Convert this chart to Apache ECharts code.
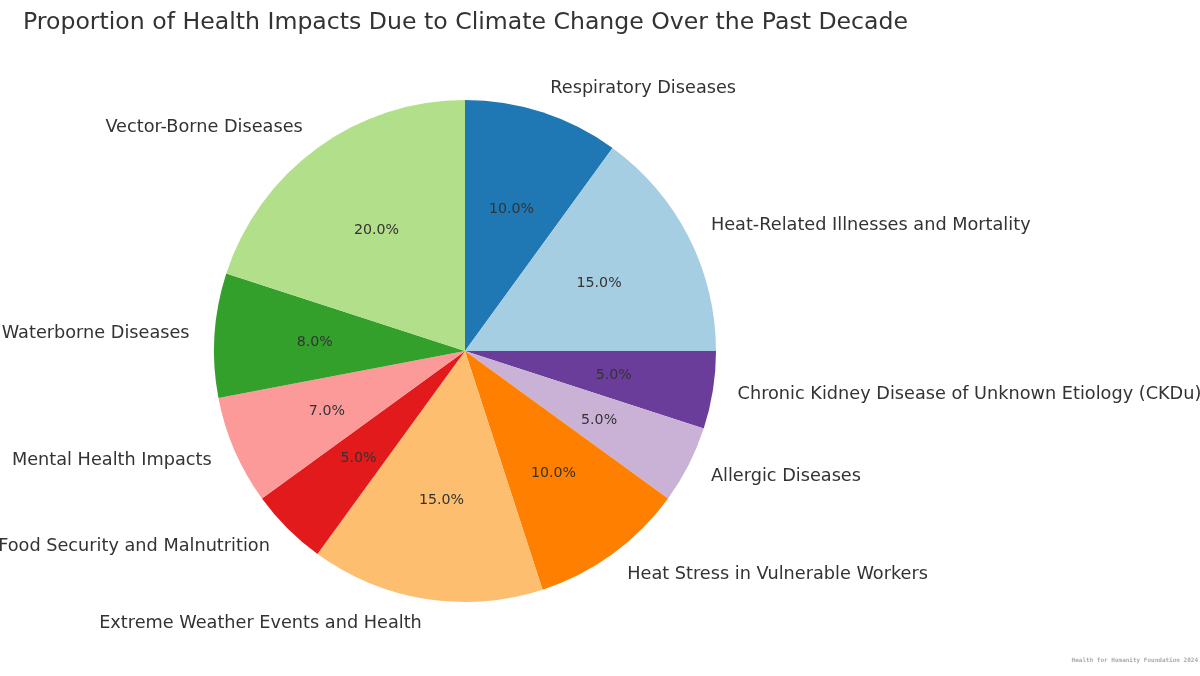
<!DOCTYPE html>
<html>
<head>
<meta charset="utf-8">
<script src="https://cdn.jsdelivr.net/npm/echarts@6/dist/echarts.min.js"></script>
<style>
  html, body { margin: 0; padding: 0; background: #fff; }
  #chart { width: 1200px; height: 676px; }
</style>
</head>
<body>
<div id="chart"></div>
<script>
// slices in drawing order, clockwise from 12 o'clock
var categories = [
  'Respiratory Diseases',
  'Heat-Related Illnesses and Mortality',
  'Chronic Kidney Disease of Unknown Etiology (CKDu)',
  'Allergic Diseases',
  'Heat Stress in Vulnerable Workers',
  'Extreme Weather Events and Health',
  'Food Security and Malnutrition',
  'Mental Health Impacts',
  'Waterborne Diseases',
  'Vector-Borne Diseases'
];
var values = [10, 15, 5, 5, 10, 15, 5, 7, 8, 20];
var colors = ['#1f78b4', '#a6cee3', '#6a3d9a', '#cab2d6', '#ff7f00',
              '#fdbf6f', '#e31a1c', '#fb9a99', '#33a02c', '#b2df8a'];

var R = 251;
var total = values.reduce(function (a, b) { return a + b; }, 0);

var pieData = [];
for (var i = 0; i < categories.length; i++) {
  pieData.push({ name: categories[i], value: values[i], itemStyle: { color: colors[i] } });
}

var chartDom = document.getElementById('chart');
var myChart = echarts.init(chartDom);

var option = {
  animation: false,
  title: {
    text: 'Proportion of Health Impacts Due to Climate Change Over the Past Decade',
    left: 18,
    top: 6,
    textStyle: {
      fontFamily: 'DejaVu Sans',
      fontSize: 23.6,
      fontWeight: 'normal',
      color: '#333'
    }
  },
  graphic: [{
    type: 'text',
    right: 2,
    top: 657,
    style: {
      text: 'Health for Humanity Foundation 2024',
      font: 'bold 6px "DejaVu Sans Mono"',
      fill: '#aaa'
    }
  }],
  series: [
    {
      // the pie with names outside
      type: 'pie',
      center: [465, 351],
      radius: [0, R],
      startAngle: 90,
      clockwise: true,
      avoidLabelOverlap: false,
      silent: true,
      data: pieData,
      label: {
        show: true,
        position: 'outside',
        distanceToLabelLine: 0,
        fontFamily: 'DejaVu Sans',
        fontSize: 17.7,
        color: '#333',
        formatter: '{b}'
      },
      labelLine: { show: false, length: 25, length2: 0 }
    },
    {
      // transparent copy, only to put the percentages near 0.6 R
      type: 'pie',
      center: [465, 352],
      radius: [44, R],
      startAngle: 90,
      clockwise: true,
      silent: true,
      data: pieData.map(function (d) {
        return { name: d.name, value: d.value, itemStyle: { color: 'transparent' } };
      }),
      label: {
        show: true,
        position: 'inside',
        fontFamily: 'DejaVu Sans',
        fontSize: 14.2,
        color: '#333',
        formatter: function (p) { return (p.value / total * 100).toFixed(1) + '%'; }
      },
      labelLine: { show: false }
    }
  ]
};

option && myChart.setOption(option);
</script>
</body>
</html>
